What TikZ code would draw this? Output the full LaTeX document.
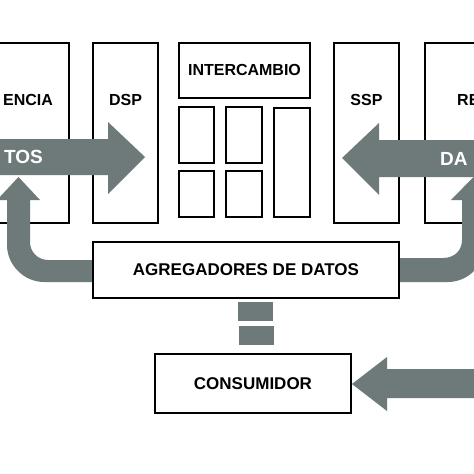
\documentclass[tikz,border=0pt]{standalone}
\usepackage{fontspec}
\setmainfont{Liberation Sans}
\definecolor{arrowgray}{RGB}{110,121,121}
\tikzset{
  box/.style={draw=black, line width=2pt, fill=white, inner sep=0pt},
  lbl/.style={font=\bfseries\fontsize{16}{16}\selectfont, inner sep=0pt},
  biglbl/.style={font=\bfseries\fontsize{17}{17}\selectfont, inner sep=0pt},
  arrowlbl/.style={font=\bfseries\fontsize{19}{19}\selectfont, text=white, inner sep=0pt},
  blockarrow/.style={fill=arrowgray, draw=none},
  sq/.style={fill=arrowgray, draw=none}
}
\begin{document}
\begin{tikzpicture}[x=1pt,y=-1pt]
\useasboundingbox (0,0) rectangle (474,474);
\clip (0,0) rectangle (474,474);
\fill[white] (0,0) rectangle (474,474);
% top boxes
\draw[box] (-10,43) rectangle (69,223);
\draw[box] (93,43) rectangle (158,223);
\draw[box] (179,43) rectangle (310,98);
\draw[box] (179,107) rectangle (214,163);
\draw[box] (226,107) rectangle (262,163);
\draw[box] (179,171) rectangle (214,217);
\draw[box] (226,171) rectangle (262,217);
\draw[box] (274,108) rectangle (310,217);
\draw[box] (334,43) rectangle (399,223);
\draw[box] (425,43) rectangle (495,223);
\node[lbl, anchor=west] (enc) at (3,100) {ENCIA};
\node[lbl] (dsp) at (125.5,100) {DSP};
\node[lbl] (inter) at (244.5,70) {INTERCAMBIO};
\node[lbl] (ssp) at (366.5,100) {SSP};
\node[lbl, anchor=west] (red) at (457,100) {RE};
% horizontal block arrows
\path[blockarrow] (-10,139) -- (108,139) -- (108,122) -- (145,157) -- (108,194) -- (108,175) -- (-10,175) -- cycle;
\path[blockarrow] (484,140) -- (379,140) -- (379,123) -- (342,158) -- (379,195) -- (379,177) -- (484,177) -- cycle;
\node[arrowlbl, anchor=east] (datosL) at (43,157) {TOS};
\node[arrowlbl, anchor=west] (datosR) at (440,158.5) {DA};
% curved block arrows
\path[blockarrow] (95,260) -- (48,260) .. controls (38,260) and (30,252) .. (30,242) -- (30,200) -- (40,200) -- (18.5,177) -- (-3,200) -- (7,200) -- (7,245) .. controls (7,265) and (24,282) .. (44,282) -- (95,282) -- cycle;
\path[blockarrow] (397,258) -- (443,258) .. controls (455,258) and (462,250) .. (462,240) -- (462,200) -- (451,200) -- (473.5,177) -- (496,200) -- (485,200) -- (485,245) .. controls (485,265) and (468,282) .. (448,282) -- (397,282) -- cycle;
% aggregators
\node[box, minimum width=306pt, minimum height=56pt] (agg) at (246,270) {};
\node[biglbl] at (agg.center) {AGREGADORES DE DATOS};
% squares
\path[sq] (238,302) rectangle (273,321);
\path[sq] (239,326) rectangle (274,345);
% consumidor
\node[box, minimum width=196pt, minimum height=59pt] (cons) at (253,383.5) {};
\node[biglbl] at (cons.center) {CONSUMIDOR};
\path[blockarrow] (484,369) -- (387,369) -- (387,357) -- (352,384) -- (387,411) -- (387,398) -- (484,398) -- cycle;
\end{tikzpicture}
\end{document}
